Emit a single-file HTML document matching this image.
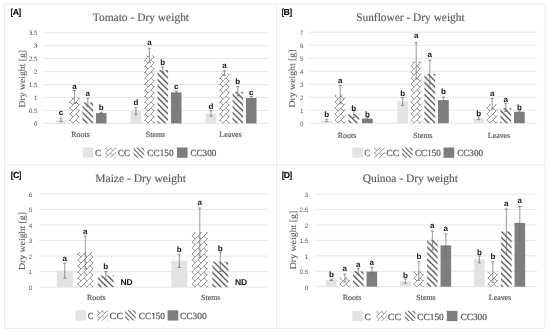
<!DOCTYPE html><html><head><meta charset="utf-8"><title>Dry weight charts</title>
<style>html,body{margin:0;padding:0;background:#fff;}svg{display:block;text-rendering:geometricPrecision;filter:blur(0.35px);}</style></head><body>
<svg width="550" height="333" viewBox="0 0 550 333">
<defs>
<pattern id="pCC" patternUnits="userSpaceOnUse" width="6" height="6"><path d="M-1 7 L7 -1 M-1 1 L1 -1 M5 7 L7 5 M3.0 3.0 L6 6" stroke="#8c8c8c" stroke-width="0.85" fill="none"/></pattern>
<pattern id="pCCL" patternUnits="userSpaceOnUse" width="4.8" height="4.8"><path d="M-1 5.8 L5.8 -1 M-1 1 L1 -1 M3.8 5.8 L5.8 3.8 M2.4 2.4 L4.8 4.8" stroke="#808080" stroke-width="0.7" fill="none"/></pattern>
<pattern id="p150L" patternUnits="userSpaceOnUse" width="4.7" height="4.7"><path d="M-1 -1 L5.7 5.7 M-1 3.7 L1 5.7 M3.7 -1 L5.7 1" stroke="#606060" stroke-width="1.15" fill="none"/></pattern>
<pattern id="p150" patternUnits="userSpaceOnUse" width="6" height="6"><path d="M-1 -1 L7 7 M-1 5 L1 7 M5 -1 L7 1" stroke="#606060" stroke-width="1.4" fill="none"/></pattern>
</defs>
<rect x="0" y="0" width="550" height="333" fill="#fff"/>
<g fill="none" stroke="#ececec" stroke-width="1">
<rect x="4.7" y="4.0" width="540.3" height="324.4"/>
<line x1="276.5" y1="4" x2="276.5" y2="328.4"/>
<line x1="4.5" y1="164.8" x2="545" y2="164.8"/>
</g>
<text x="10.6" y="15" font-family="'Liberation Sans', sans-serif" font-size="8.8" fill="#000" font-weight="bold" stroke="#000" stroke-width="0.1" letter-spacing="-0.35"><tspan font-weight="normal" stroke-width="0.3">[</tspan>A<tspan font-weight="normal" stroke-width="0.3">]</tspan></text>
<text x="140.9" y="21.4" font-family="'Liberation Serif', serif" font-size="11.5" fill="#595959" text-anchor="middle" stroke="#595959" stroke-width="0.14" textLength="96.3" lengthAdjust="spacingAndGlyphs">Tomato - Dry weight</text>
<g stroke="#e6e6e6" stroke-width="1">
<line x1="43" y1="123.4" x2="268" y2="123.4"/>
<line x1="43" y1="110.45" x2="268" y2="110.45"/>
<line x1="43" y1="97.5" x2="268" y2="97.5"/>
<line x1="43" y1="84.55" x2="268" y2="84.55"/>
<line x1="43" y1="71.6" x2="268" y2="71.6"/>
<line x1="43" y1="58.65" x2="268" y2="58.65"/>
<line x1="43" y1="45.7" x2="268" y2="45.7"/>
<line x1="43" y1="32.75" x2="268" y2="32.75"/>
</g>
<text x="37.3" y="125.7" font-family="'Liberation Serif', serif" font-size="6.6" fill="#595959" text-anchor="end" stroke="#595959" stroke-width="0.1">0</text>
<text x="37.3" y="112.75" font-family="'Liberation Serif', serif" font-size="6.6" fill="#595959" text-anchor="end" stroke="#595959" stroke-width="0.1">0.5</text>
<text x="37.3" y="99.8" font-family="'Liberation Serif', serif" font-size="6.6" fill="#595959" text-anchor="end" stroke="#595959" stroke-width="0.1">1</text>
<text x="37.3" y="86.85" font-family="'Liberation Serif', serif" font-size="6.6" fill="#595959" text-anchor="end" stroke="#595959" stroke-width="0.1">1.5</text>
<text x="37.3" y="73.9" font-family="'Liberation Serif', serif" font-size="6.6" fill="#595959" text-anchor="end" stroke="#595959" stroke-width="0.1">2</text>
<text x="37.3" y="60.95" font-family="'Liberation Serif', serif" font-size="6.6" fill="#595959" text-anchor="end" stroke="#595959" stroke-width="0.1">2.5</text>
<text x="37.3" y="48" font-family="'Liberation Serif', serif" font-size="6.6" fill="#595959" text-anchor="end" stroke="#595959" stroke-width="0.1">3</text>
<text x="37.3" y="35.05" font-family="'Liberation Serif', serif" font-size="6.6" fill="#595959" text-anchor="end" stroke="#595959" stroke-width="0.1">3.5</text>
<text transform="translate(25 78.8) rotate(-90)" font-family="'Liberation Serif', serif" font-size="9.1" fill="#595959" text-anchor="middle" stroke="#595959" stroke-width="0.08" textLength="57.6" lengthAdjust="spacingAndGlyphs">Dry weight [g]</text>
<text x="80.5" y="137.3" font-family="'Liberation Serif', serif" font-size="7.9" fill="#595959" text-anchor="middle" stroke="#595959" stroke-width="0.2">Roots</text>
<rect x="55.68" y="120.29" width="10.5" height="3.11" fill="#e3e3e3"/>
<path d="M60.93 118.22V121.59M59.33 118.22H62.53M59.33 121.59H62.53" stroke="#6e6e6e" stroke-width="0.72" fill="none"/>
<text x="60.93" y="115.3" font-family="'Liberation Sans', sans-serif" font-size="8" fill="#111" font-weight="bold" text-anchor="middle">c</text>
<pattern id="pcc40" href="#pCC" patternTransform="translate(67 123)"/>
<rect x="69.12" y="97.5" width="10.5" height="25.9" fill="url(#pcc40)"/>
<path d="M74.38 90.51V103.2M72.78 90.51H75.97M72.78 103.2H75.97" stroke="#6e6e6e" stroke-width="0.72" fill="none"/>
<text x="74.38" y="88.5" font-family="'Liberation Sans', sans-serif" font-size="8" fill="#111" font-weight="bold" text-anchor="middle">a</text>
<rect x="82.58" y="102.42" width="10.5" height="20.98" fill="url(#p150)"/>
<path d="M87.83 98.28V106.31M86.23 98.28H89.42M86.23 106.31H89.42" stroke="#6e6e6e" stroke-width="0.72" fill="none"/>
<text x="87.83" y="96.1" font-family="'Liberation Sans', sans-serif" font-size="8" fill="#111" font-weight="bold" text-anchor="middle">a</text>
<rect x="96.03" y="113.04" width="10.5" height="10.36" fill="#7e7e7e"/>
<path d="M101.28 112.26V113.56M99.68 112.26H102.88M99.68 113.56H102.88" stroke="#6e6e6e" stroke-width="0.72" fill="none"/>
<text x="101.28" y="109.5" font-family="'Liberation Sans', sans-serif" font-size="8" fill="#111" font-weight="bold" text-anchor="middle">b</text>
<text x="155.5" y="137.3" font-family="'Liberation Serif', serif" font-size="7.9" fill="#595959" text-anchor="middle" stroke="#595959" stroke-width="0.2">Stems</text>
<rect x="130.67" y="110.97" width="10.5" height="12.43" fill="#e3e3e3"/>
<path d="M135.92 107.6V114.59M134.32 107.6H137.52M134.32 114.59H137.52" stroke="#6e6e6e" stroke-width="0.72" fill="none"/>
<text x="135.92" y="104.5" font-family="'Liberation Sans', sans-serif" font-size="8" fill="#111" font-weight="bold" text-anchor="middle">d</text>
<pattern id="pcc54" href="#pCC" patternTransform="translate(142 123)"/>
<rect x="144.12" y="55.28" width="10.5" height="68.12" fill="url(#pcc54)"/>
<path d="M149.37 48.29V62.28M147.77 48.29H150.97M147.77 62.28H150.97" stroke="#6e6e6e" stroke-width="0.72" fill="none"/>
<text x="149.37" y="45.1" font-family="'Liberation Sans', sans-serif" font-size="8" fill="#111" font-weight="bold" text-anchor="middle">a</text>
<rect x="157.57" y="70.05" width="10.5" height="53.35" fill="url(#p150)"/>
<path d="M162.82 67.2V72.64M161.22 67.2H164.42M161.22 72.64H164.42" stroke="#6e6e6e" stroke-width="0.72" fill="none"/>
<text x="162.82" y="64.7" font-family="'Liberation Sans', sans-serif" font-size="8" fill="#111" font-weight="bold" text-anchor="middle">b</text>
<rect x="171.02" y="92.32" width="10.5" height="31.08" fill="#7e7e7e"/>
<path d="M176.27 91.03V93.62M174.67 91.03H177.87M174.67 93.62H177.87" stroke="#6e6e6e" stroke-width="0.72" fill="none"/>
<text x="176.27" y="89" font-family="'Liberation Sans', sans-serif" font-size="8" fill="#111" font-weight="bold" text-anchor="middle">c</text>
<text x="230.5" y="137.3" font-family="'Liberation Serif', serif" font-size="7.9" fill="#595959" text-anchor="middle" stroke="#595959" stroke-width="0.2">Leaves</text>
<rect x="205.67" y="113.56" width="10.5" height="9.84" fill="#e3e3e3"/>
<path d="M210.92 110.71V116.15M209.32 110.71H212.52M209.32 116.15H212.52" stroke="#6e6e6e" stroke-width="0.72" fill="none"/>
<text x="210.92" y="108.8" font-family="'Liberation Sans', sans-serif" font-size="8" fill="#111" font-weight="bold" text-anchor="middle">d</text>
<pattern id="pcc68" href="#pCC" patternTransform="translate(217 123)"/>
<rect x="219.12" y="73.41" width="10.5" height="49.99" fill="url(#pcc68)"/>
<path d="M224.37 70.82V75.49M222.77 70.82H225.97M222.77 75.49H225.97" stroke="#6e6e6e" stroke-width="0.72" fill="none"/>
<text x="224.37" y="68.2" font-family="'Liberation Sans', sans-serif" font-size="8" fill="#111" font-weight="bold" text-anchor="middle">a</text>
<rect x="232.57" y="91.8" width="10.5" height="31.6" fill="url(#p150)"/>
<path d="M237.82 86.62V95.95M236.22 86.62H239.42M236.22 95.95H239.42" stroke="#6e6e6e" stroke-width="0.72" fill="none"/>
<text x="237.82" y="84.4" font-family="'Liberation Sans', sans-serif" font-size="8" fill="#111" font-weight="bold" text-anchor="middle">b</text>
<rect x="246.02" y="98.02" width="10.5" height="25.38" fill="#7e7e7e"/>
<path d="M251.27 96.46V99.31M249.67 96.46H252.87M249.67 99.31H252.87" stroke="#6e6e6e" stroke-width="0.72" fill="none"/>
<text x="251.27" y="94.5" font-family="'Liberation Sans', sans-serif" font-size="8" fill="#111" font-weight="bold" text-anchor="middle">c</text>
<rect x="82.7" y="147.5" width="10.7" height="10.3" fill="#e3e3e3"/>
<text x="95" y="156.4" font-family="'Liberation Serif', serif" font-size="9.4" fill="#595959" stroke="#595959" stroke-width="0.22" textLength="6.5" lengthAdjust="spacingAndGlyphs">C</text>
<clipPath id="clpA1"><rect x="105.2" y="147.5" width="10.7" height="10.3"/></clipPath>
<path d="M102.2 137.2L118.9 120.5M102.2 142L118.9 125.3M102.2 146.8L118.9 130.1M102.2 151.6L118.9 134.9M102.2 156.4L118.9 139.7M102.2 161.2L118.9 144.5M102.2 166L118.9 149.3M102.2 170.8L118.9 154.1M102.2 175.6L118.9 158.9M102.2 180.4L118.9 163.7M100.85 143.35L103.25 145.75M100.85 148.15L103.25 150.55M100.85 152.95L103.25 155.35M100.85 157.75L103.25 160.15M105.65 143.35L108.05 145.75M105.65 148.15L108.05 150.55M105.65 152.95L108.05 155.35M105.65 157.75L108.05 160.15M110.45 143.35L112.85 145.75M110.45 148.15L112.85 150.55M110.45 152.95L112.85 155.35M110.45 157.75L112.85 160.15M115.25 143.35L117.65 145.75M115.25 148.15L117.65 150.55M115.25 152.95L117.65 155.35M115.25 157.75L117.65 160.15" stroke="#808080" stroke-width="0.8" fill="none" clip-path="url(#clpA1)"/>
<text x="117.8" y="156.4" font-family="'Liberation Serif', serif" font-size="9.4" fill="#595959" stroke="#595959" stroke-width="0.22" textLength="12.2" lengthAdjust="spacingAndGlyphs">CC</text>
<clipPath id="clpA2"><rect x="133.6" y="147.5" width="10.7" height="10.3"/></clipPath>
<path d="M105.7 144.5L122 160.8M110.4 144.5L126.7 160.8M115.1 144.5L131.4 160.8M119.8 144.5L136.1 160.8M124.5 144.5L140.8 160.8M129.2 144.5L145.5 160.8M133.9 144.5L150.2 160.8M138.6 144.5L154.9 160.8M143.3 144.5L159.6 160.8M148 144.5L164.3 160.8M152.7 144.5L169 160.8" stroke="#606060" stroke-width="1.05" fill="none" clip-path="url(#clpA2)"/>
<text x="147.3" y="156.4" font-family="'Liberation Serif', serif" font-size="9.4" fill="#595959" stroke="#595959" stroke-width="0.22" textLength="26.3" lengthAdjust="spacingAndGlyphs">CC150</text>
<rect x="176.9" y="147.5" width="10.7" height="10.3" fill="#7e7e7e"/>
<text x="190.4" y="156.4" font-family="'Liberation Serif', serif" font-size="9.4" fill="#595959" stroke="#595959" stroke-width="0.22" textLength="26" lengthAdjust="spacingAndGlyphs">CC300</text>
<text x="281.5" y="15" font-family="'Liberation Sans', sans-serif" font-size="8.8" fill="#000" font-weight="bold" stroke="#000" stroke-width="0.1" letter-spacing="-0.35"><tspan font-weight="normal" stroke-width="0.3">[</tspan>B<tspan font-weight="normal" stroke-width="0.3">]</tspan></text>
<text x="410.4" y="20.8" font-family="'Liberation Serif', serif" font-size="11.5" fill="#595959" text-anchor="middle" stroke="#595959" stroke-width="0.14" textLength="108.5" lengthAdjust="spacingAndGlyphs">Sunflower - Dry weight</text>
<g stroke="#e6e6e6" stroke-width="1">
<line x1="309" y1="123.2" x2="537" y2="123.2"/>
<line x1="309" y1="110.2" x2="537" y2="110.2"/>
<line x1="309" y1="97.2" x2="537" y2="97.2"/>
<line x1="309" y1="84.2" x2="537" y2="84.2"/>
<line x1="309" y1="71.2" x2="537" y2="71.2"/>
<line x1="309" y1="58.2" x2="537" y2="58.2"/>
<line x1="309" y1="45.2" x2="537" y2="45.2"/>
<line x1="309" y1="32.2" x2="537" y2="32.2"/>
</g>
<text x="303.4" y="126" font-family="'Liberation Sans', sans-serif" font-size="6.3" fill="#595959" text-anchor="end">0</text>
<text x="303.4" y="113" font-family="'Liberation Sans', sans-serif" font-size="6.3" fill="#595959" text-anchor="end">1</text>
<text x="303.4" y="100" font-family="'Liberation Sans', sans-serif" font-size="6.3" fill="#595959" text-anchor="end">2</text>
<text x="303.4" y="87" font-family="'Liberation Sans', sans-serif" font-size="6.3" fill="#595959" text-anchor="end">3</text>
<text x="303.4" y="74" font-family="'Liberation Sans', sans-serif" font-size="6.3" fill="#595959" text-anchor="end">4</text>
<text x="303.4" y="61" font-family="'Liberation Sans', sans-serif" font-size="6.3" fill="#595959" text-anchor="end">5</text>
<text x="303.4" y="48" font-family="'Liberation Sans', sans-serif" font-size="6.3" fill="#595959" text-anchor="end">6</text>
<text x="303.4" y="35" font-family="'Liberation Sans', sans-serif" font-size="6.3" fill="#595959" text-anchor="end">7</text>
<text transform="translate(295 78.5) rotate(-90)" font-family="'Liberation Serif', serif" font-size="9.1" fill="#595959" text-anchor="middle" stroke="#595959" stroke-width="0.08" textLength="58" lengthAdjust="spacingAndGlyphs">Dry weight [g]</text>
<text x="347" y="137.8" font-family="'Liberation Serif', serif" font-size="7.9" fill="#595959" text-anchor="middle" stroke="#595959" stroke-width="0.2">Roots</text>
<rect x="321.2" y="120.6" width="10.8" height="2.6" fill="#e3e3e3"/>
<path d="M326.6 119.3V121.64M325 119.3H328.2M325 121.64H328.2" stroke="#6e6e6e" stroke-width="0.72" fill="none"/>
<text x="326.6" y="116.6" font-family="'Liberation Sans', sans-serif" font-size="8" fill="#111" font-weight="bold" text-anchor="middle">b</text>
<pattern id="pcc113" href="#pCC" patternTransform="translate(332 123)"/>
<rect x="334.8" y="94.6" width="10.8" height="28.6" fill="url(#pcc113)"/>
<path d="M340.2 85.5V103.7M338.6 85.5H341.8M338.6 103.7H341.8" stroke="#6e6e6e" stroke-width="0.72" fill="none"/>
<text x="340.2" y="83.3" font-family="'Liberation Sans', sans-serif" font-size="8" fill="#111" font-weight="bold" text-anchor="middle">a</text>
<rect x="348.4" y="114.1" width="10.8" height="9.1" fill="url(#p150)"/>
<path d="M353.8 110.2V117.35M352.2 110.2H355.4M352.2 117.35H355.4" stroke="#6e6e6e" stroke-width="0.72" fill="none"/>
<text x="353.8" y="110.9" font-family="'Liberation Sans', sans-serif" font-size="8" fill="#111" font-weight="bold" text-anchor="middle">b</text>
<rect x="362" y="118.65" width="10.8" height="4.55" fill="#7e7e7e"/>
<path d="M367.4 117.35V119.56M365.8 117.35H369M365.8 119.56H369" stroke="#6e6e6e" stroke-width="0.72" fill="none"/>
<text x="367.4" y="116.6" font-family="'Liberation Sans', sans-serif" font-size="8" fill="#111" font-weight="bold" text-anchor="middle">b</text>
<text x="423" y="137.8" font-family="'Liberation Serif', serif" font-size="7.9" fill="#595959" text-anchor="middle" stroke="#595959" stroke-width="0.2">Stems</text>
<rect x="397.2" y="101.36" width="10.8" height="21.84" fill="#e3e3e3"/>
<path d="M402.6 97.59V105.39M401 97.59H404.2M401 105.39H404.2" stroke="#6e6e6e" stroke-width="0.72" fill="none"/>
<text x="402.6" y="95.6" font-family="'Liberation Sans', sans-serif" font-size="8" fill="#111" font-weight="bold" text-anchor="middle">b</text>
<pattern id="pcc127" href="#pCC" patternTransform="translate(408 123)"/>
<rect x="410.8" y="61.32" width="10.8" height="61.88" fill="url(#pcc127)"/>
<path d="M416.2 42.6V79M414.6 42.6H417.8M414.6 79H417.8" stroke="#6e6e6e" stroke-width="0.72" fill="none"/>
<text x="416.2" y="38.4" font-family="'Liberation Sans', sans-serif" font-size="8" fill="#111" font-weight="bold" text-anchor="middle">a</text>
<rect x="424.4" y="73.93" width="10.8" height="49.27" fill="url(#p150)"/>
<path d="M429.8 60.28V88.1M428.2 60.28H431.4M428.2 88.1H431.4" stroke="#6e6e6e" stroke-width="0.72" fill="none"/>
<text x="429.8" y="56.7" font-family="'Liberation Sans', sans-serif" font-size="8" fill="#111" font-weight="bold" text-anchor="middle">a</text>
<rect x="438" y="100.06" width="10.8" height="23.14" fill="#7e7e7e"/>
<path d="M443.4 97.2V103.7M441.8 97.2H445M441.8 103.7H445" stroke="#6e6e6e" stroke-width="0.72" fill="none"/>
<text x="443.4" y="94.4" font-family="'Liberation Sans', sans-serif" font-size="8" fill="#111" font-weight="bold" text-anchor="middle">b</text>
<text x="499" y="137.8" font-family="'Liberation Serif', serif" font-size="7.9" fill="#595959" text-anchor="middle" stroke="#595959" stroke-width="0.2">Leaves</text>
<rect x="473.2" y="118.26" width="10.8" height="4.94" fill="#e3e3e3"/>
<path d="M478.6 116.7V119.56M477 116.7H480.2M477 119.56H480.2" stroke="#6e6e6e" stroke-width="0.72" fill="none"/>
<text x="478.6" y="115.5" font-family="'Liberation Sans', sans-serif" font-size="8" fill="#111" font-weight="bold" text-anchor="middle">b</text>
<pattern id="pcc141" href="#pCC" patternTransform="translate(484 123)"/>
<rect x="486.8" y="104.35" width="10.8" height="18.85" fill="url(#pcc141)"/>
<path d="M492.2 98.5V108.9M490.6 98.5H493.8M490.6 108.9H493.8" stroke="#6e6e6e" stroke-width="0.72" fill="none"/>
<text x="492.2" y="96.1" font-family="'Liberation Sans', sans-serif" font-size="8" fill="#111" font-weight="bold" text-anchor="middle">a</text>
<rect x="500.4" y="108.12" width="10.8" height="15.08" fill="url(#p150)"/>
<path d="M505.8 103.31V111.5M504.2 103.31H507.4M504.2 111.5H507.4" stroke="#6e6e6e" stroke-width="0.72" fill="none"/>
<text x="505.8" y="101.8" font-family="'Liberation Sans', sans-serif" font-size="8" fill="#111" font-weight="bold" text-anchor="middle">a</text>
<rect x="514" y="111.76" width="10.8" height="11.44" fill="#7e7e7e"/>
<path d="M519.4 110.85V112.54M517.8 110.85H521M517.8 112.54H521" stroke="#6e6e6e" stroke-width="0.72" fill="none"/>
<text x="519.4" y="109.8" font-family="'Liberation Sans', sans-serif" font-size="8" fill="#111" font-weight="bold" text-anchor="middle">b</text>
<rect x="352.3" y="147.5" width="10.7" height="10.3" fill="#e3e3e3"/>
<text x="364.5" y="156.4" font-family="'Liberation Serif', serif" font-size="9.4" fill="#595959" stroke="#595959" stroke-width="0.22" textLength="5.6" lengthAdjust="spacingAndGlyphs">C</text>
<clipPath id="clpB1"><rect x="374" y="147.5" width="10.7" height="10.3"/></clipPath>
<path d="M371 137.2L387.7 120.5M371 142L387.7 125.3M371 146.8L387.7 130.1M371 151.6L387.7 134.9M371 156.4L387.7 139.7M371 161.2L387.7 144.5M371 166L387.7 149.3M371 170.8L387.7 154.1M371 175.6L387.7 158.9M371 180.4L387.7 163.7M369.65 143.35L372.05 145.75M369.65 148.15L372.05 150.55M369.65 152.95L372.05 155.35M369.65 157.75L372.05 160.15M374.45 143.35L376.85 145.75M374.45 148.15L376.85 150.55M374.45 152.95L376.85 155.35M374.45 157.75L376.85 160.15M379.25 143.35L381.65 145.75M379.25 148.15L381.65 150.55M379.25 152.95L381.65 155.35M379.25 157.75L381.65 160.15M384.05 143.35L386.45 145.75M384.05 148.15L386.45 150.55M384.05 152.95L386.45 155.35M384.05 157.75L386.45 160.15" stroke="#808080" stroke-width="0.8" fill="none" clip-path="url(#clpB1)"/>
<text x="386.3" y="156.4" font-family="'Liberation Serif', serif" font-size="9.4" fill="#595959" stroke="#595959" stroke-width="0.22" textLength="13" lengthAdjust="spacingAndGlyphs">CC</text>
<clipPath id="clpB2"><rect x="402" y="147.5" width="10.7" height="10.3"/></clipPath>
<path d="M374.1 144.5L390.4 160.8M378.8 144.5L395.1 160.8M383.5 144.5L399.8 160.8M388.2 144.5L404.5 160.8M392.9 144.5L409.2 160.8M397.6 144.5L413.9 160.8M402.3 144.5L418.6 160.8M407 144.5L423.3 160.8M411.7 144.5L428 160.8M416.4 144.5L432.7 160.8M421.1 144.5L437.4 160.8" stroke="#606060" stroke-width="1.05" fill="none" clip-path="url(#clpB2)"/>
<text x="415" y="156.4" font-family="'Liberation Serif', serif" font-size="9.4" fill="#595959" stroke="#595959" stroke-width="0.22" textLength="25.8" lengthAdjust="spacingAndGlyphs">CC150</text>
<rect x="443.5" y="147.5" width="10.7" height="10.3" fill="#7e7e7e"/>
<text x="457.2" y="156.4" font-family="'Liberation Serif', serif" font-size="9.4" fill="#595959" stroke="#595959" stroke-width="0.22" textLength="25.8" lengthAdjust="spacingAndGlyphs">CC300</text>
<text x="10.8" y="178.3" font-family="'Liberation Sans', sans-serif" font-size="8.8" fill="#000" font-weight="bold" stroke="#000" stroke-width="0.1" letter-spacing="-0.35"><tspan font-weight="normal" stroke-width="0.3">[</tspan>C<tspan font-weight="normal" stroke-width="0.3">]</tspan></text>
<text x="140.6" y="181.5" font-family="'Liberation Serif', serif" font-size="11.5" fill="#595959" text-anchor="middle" stroke="#595959" stroke-width="0.14" textLength="90.6" lengthAdjust="spacingAndGlyphs">Maize - Dry weight</text>
<g stroke="#e6e6e6" stroke-width="1">
<line x1="39" y1="287.2" x2="268" y2="287.2"/>
<line x1="39" y1="271.65" x2="268" y2="271.65"/>
<line x1="39" y1="256.1" x2="268" y2="256.1"/>
<line x1="39" y1="240.55" x2="268" y2="240.55"/>
<line x1="39" y1="225" x2="268" y2="225"/>
<line x1="39" y1="209.45" x2="268" y2="209.45"/>
<line x1="39" y1="193.9" x2="268" y2="193.9"/>
</g>
<text x="32.3" y="290" font-family="'Liberation Sans', sans-serif" font-size="6.3" fill="#595959" text-anchor="end">0</text>
<text x="32.3" y="274.45" font-family="'Liberation Sans', sans-serif" font-size="6.3" fill="#595959" text-anchor="end">1</text>
<text x="32.3" y="258.9" font-family="'Liberation Sans', sans-serif" font-size="6.3" fill="#595959" text-anchor="end">2</text>
<text x="32.3" y="243.35" font-family="'Liberation Sans', sans-serif" font-size="6.3" fill="#595959" text-anchor="end">3</text>
<text x="32.3" y="227.8" font-family="'Liberation Sans', sans-serif" font-size="6.3" fill="#595959" text-anchor="end">4</text>
<text x="32.3" y="212.25" font-family="'Liberation Sans', sans-serif" font-size="6.3" fill="#595959" text-anchor="end">5</text>
<text x="32.3" y="196.7" font-family="'Liberation Sans', sans-serif" font-size="6.3" fill="#595959" text-anchor="end">6</text>
<text transform="translate(25 241) rotate(-90)" font-family="'Liberation Serif', serif" font-size="9.1" fill="#595959" text-anchor="middle" stroke="#595959" stroke-width="0.08" textLength="58" lengthAdjust="spacingAndGlyphs">Dry weight [g]</text>
<text x="96.25" y="300.2" font-family="'Liberation Serif', serif" font-size="7.9" fill="#595959" text-anchor="middle" stroke="#595959" stroke-width="0.2">Roots</text>
<rect x="56.8" y="270.72" width="16" height="16.48" fill="#e3e3e3"/>
<path d="M64.8 263.41V278.18M63.2 263.41H66.4M63.2 278.18H66.4" stroke="#6e6e6e" stroke-width="0.72" fill="none"/>
<text x="64.8" y="260.8" font-family="'Liberation Sans', sans-serif" font-size="8" fill="#111" font-weight="bold" text-anchor="middle">a</text>
<pattern id="pcc184" href="#pCC" patternTransform="translate(75 287)"/>
<rect x="77.3" y="251.9" width="16" height="35.3" fill="url(#pcc184)"/>
<path d="M85.3 235.88V269.01M83.7 235.88H86.9M83.7 269.01H86.9" stroke="#6e6e6e" stroke-width="0.72" fill="none"/>
<text x="85.3" y="233.6" font-family="'Liberation Sans', sans-serif" font-size="8" fill="#111" font-weight="bold" text-anchor="middle">a</text>
<rect x="97.8" y="275.54" width="16" height="11.66" fill="url(#p150)"/>
<path d="M105.8 271.65V279.43M104.2 271.65H107.4M104.2 279.43H107.4" stroke="#6e6e6e" stroke-width="0.72" fill="none"/>
<text x="105.8" y="268.7" font-family="'Liberation Sans', sans-serif" font-size="8" fill="#111" font-weight="bold" text-anchor="middle">b</text>
<text x="126.6" y="285.2" font-family="'Liberation Sans', sans-serif" font-size="8.5" fill="#111" font-weight="bold" text-anchor="middle">ND</text>
<text x="210.75" y="300.2" font-family="'Liberation Serif', serif" font-size="7.9" fill="#595959" text-anchor="middle" stroke="#595959" stroke-width="0.2">Stems</text>
<rect x="171.3" y="260.76" width="16" height="26.44" fill="#e3e3e3"/>
<path d="M179.3 254.23V267.45M177.7 254.23H180.9M177.7 267.45H180.9" stroke="#6e6e6e" stroke-width="0.72" fill="none"/>
<text x="179.3" y="252.1" font-family="'Liberation Sans', sans-serif" font-size="8" fill="#111" font-weight="bold" text-anchor="middle">b</text>
<pattern id="pcc196" href="#pCC" patternTransform="translate(189 287)"/>
<rect x="191.8" y="232.15" width="16" height="55.05" fill="url(#pcc196)"/>
<path d="M199.8 208.05V257.65M198.2 208.05H201.4M198.2 257.65H201.4" stroke="#6e6e6e" stroke-width="0.72" fill="none"/>
<text x="199.8" y="205.2" font-family="'Liberation Sans', sans-serif" font-size="8" fill="#111" font-weight="bold" text-anchor="middle">a</text>
<rect x="212.3" y="261.7" width="16" height="25.5" fill="url(#p150)"/>
<path d="M220.3 251.9V271.65M218.7 251.9H221.9M218.7 271.65H221.9" stroke="#6e6e6e" stroke-width="0.72" fill="none"/>
<text x="220.3" y="250.8" font-family="'Liberation Sans', sans-serif" font-size="8" fill="#111" font-weight="bold" text-anchor="middle">b</text>
<text x="241.1" y="285.2" font-family="'Liberation Sans', sans-serif" font-size="8.5" fill="#111" font-weight="bold" text-anchor="middle">ND</text>
<rect x="75.5" y="310.3" width="10.7" height="10.3" fill="#e3e3e3"/>
<text x="87.8" y="319.2" font-family="'Liberation Serif', serif" font-size="9.4" fill="#595959" stroke="#595959" stroke-width="0.22" textLength="5.6" lengthAdjust="spacingAndGlyphs">C</text>
<clipPath id="clpC1"><rect x="97" y="310.3" width="10.7" height="10.3"/></clipPath>
<path d="M94 300L110.7 283.3M94 304.8L110.7 288.1M94 309.6L110.7 292.9M94 314.4L110.7 297.7M94 319.2L110.7 302.5M94 324L110.7 307.3M94 328.8L110.7 312.1M94 333.6L110.7 316.9M94 338.4L110.7 321.7M94 343.2L110.7 326.5M92.65 306.15L95.05 308.55M92.65 310.95L95.05 313.35M92.65 315.75L95.05 318.15M92.65 320.55L95.05 322.95M97.45 306.15L99.85 308.55M97.45 310.95L99.85 313.35M97.45 315.75L99.85 318.15M97.45 320.55L99.85 322.95M102.25 306.15L104.65 308.55M102.25 310.95L104.65 313.35M102.25 315.75L104.65 318.15M102.25 320.55L104.65 322.95M107.05 306.15L109.45 308.55M107.05 310.95L109.45 313.35M107.05 315.75L109.45 318.15M107.05 320.55L109.45 322.95" stroke="#808080" stroke-width="0.8" fill="none" clip-path="url(#clpC1)"/>
<text x="109.5" y="319.2" font-family="'Liberation Serif', serif" font-size="9.4" fill="#595959" stroke="#595959" stroke-width="0.22" textLength="13.9" lengthAdjust="spacingAndGlyphs">CC</text>
<clipPath id="clpC2"><rect x="125" y="310.3" width="10.7" height="10.3"/></clipPath>
<path d="M97.1 307.3L113.4 323.6M101.8 307.3L118.1 323.6M106.5 307.3L122.8 323.6M111.2 307.3L127.5 323.6M115.9 307.3L132.2 323.6M120.6 307.3L136.9 323.6M125.3 307.3L141.6 323.6M130 307.3L146.3 323.6M134.7 307.3L151 323.6M139.4 307.3L155.7 323.6M144.1 307.3L160.4 323.6" stroke="#606060" stroke-width="1.05" fill="none" clip-path="url(#clpC2)"/>
<text x="138.8" y="319.2" font-family="'Liberation Serif', serif" font-size="9.4" fill="#595959" stroke="#595959" stroke-width="0.22" textLength="26.2" lengthAdjust="spacingAndGlyphs">CC150</text>
<rect x="167.6" y="310.3" width="10.7" height="10.3" fill="#7e7e7e"/>
<text x="180" y="319.2" font-family="'Liberation Serif', serif" font-size="9.4" fill="#595959" stroke="#595959" stroke-width="0.22" textLength="26.8" lengthAdjust="spacingAndGlyphs">CC300</text>
<text x="281.7" y="178.3" font-family="'Liberation Sans', sans-serif" font-size="8.8" fill="#000" font-weight="bold" stroke="#000" stroke-width="0.1" letter-spacing="-0.35"><tspan font-weight="normal" stroke-width="0.3">[</tspan>D<tspan font-weight="normal" stroke-width="0.3">]</tspan></text>
<text x="410.3" y="182.2" font-family="'Liberation Serif', serif" font-size="11.5" fill="#595959" text-anchor="middle" stroke="#595959" stroke-width="0.14" textLength="95.3" lengthAdjust="spacingAndGlyphs">Quinoa - Dry weight</text>
<g stroke="#e6e6e6" stroke-width="1">
<line x1="315" y1="286.7" x2="537" y2="286.7"/>
<line x1="315" y1="271.27" x2="537" y2="271.27"/>
<line x1="315" y1="255.85" x2="537" y2="255.85"/>
<line x1="315" y1="240.42" x2="537" y2="240.42"/>
<line x1="315" y1="225" x2="537" y2="225"/>
<line x1="315" y1="209.57" x2="537" y2="209.57"/>
<line x1="315" y1="194.15" x2="537" y2="194.15"/>
</g>
<text x="308.3" y="289.5" font-family="'Liberation Sans', sans-serif" font-size="6.3" fill="#595959" text-anchor="end">0</text>
<text x="308.3" y="274.07" font-family="'Liberation Sans', sans-serif" font-size="6.3" fill="#595959" text-anchor="end">0.5</text>
<text x="308.3" y="258.65" font-family="'Liberation Sans', sans-serif" font-size="6.3" fill="#595959" text-anchor="end">1</text>
<text x="308.3" y="243.22" font-family="'Liberation Sans', sans-serif" font-size="6.3" fill="#595959" text-anchor="end">1.5</text>
<text x="308.3" y="227.8" font-family="'Liberation Sans', sans-serif" font-size="6.3" fill="#595959" text-anchor="end">2</text>
<text x="308.3" y="212.38" font-family="'Liberation Sans', sans-serif" font-size="6.3" fill="#595959" text-anchor="end">2.5</text>
<text x="308.3" y="196.95" font-family="'Liberation Sans', sans-serif" font-size="6.3" fill="#595959" text-anchor="end">3</text>
<text transform="translate(296 240) rotate(-90)" font-family="'Liberation Serif', serif" font-size="9.1" fill="#595959" text-anchor="middle" stroke="#595959" stroke-width="0.08" textLength="58.6" lengthAdjust="spacingAndGlyphs">Dry weight [g]</text>
<text x="352" y="300.2" font-family="'Liberation Serif', serif" font-size="7.9" fill="#595959" text-anchor="middle" stroke="#595959" stroke-width="0.2">Roots</text>
<rect x="326.05" y="279.91" width="10.6" height="6.79" fill="#e3e3e3"/>
<path d="M331.35 278.99V280.53M329.75 278.99H332.95M329.75 280.53H332.95" stroke="#6e6e6e" stroke-width="0.72" fill="none"/>
<text x="331.35" y="276.8" font-family="'Liberation Sans', sans-serif" font-size="8" fill="#111" font-weight="bold" text-anchor="middle">b</text>
<pattern id="pcc237" href="#pCC" patternTransform="translate(337 287)"/>
<rect x="339.55" y="277.44" width="10.6" height="9.25" fill="url(#pcc237)"/>
<path d="M344.85 274.05V282.07M343.25 274.05H346.45M343.25 282.07H346.45" stroke="#6e6e6e" stroke-width="0.72" fill="none"/>
<text x="344.85" y="271.1" font-family="'Liberation Sans', sans-serif" font-size="8" fill="#111" font-weight="bold" text-anchor="middle">a</text>
<rect x="353.05" y="271.27" width="10.6" height="15.43" fill="url(#p150)"/>
<path d="M358.35 268.19V274.36M356.75 268.19H359.95M356.75 274.36H359.95" stroke="#6e6e6e" stroke-width="0.72" fill="none"/>
<text x="358.35" y="266.7" font-family="'Liberation Sans', sans-serif" font-size="8" fill="#111" font-weight="bold" text-anchor="middle">a</text>
<rect x="366.55" y="271.58" width="10.6" height="15.12" fill="#7e7e7e"/>
<path d="M371.85 267.26V275.9M370.25 267.26H373.45M370.25 275.9H373.45" stroke="#6e6e6e" stroke-width="0.72" fill="none"/>
<text x="371.85" y="264.8" font-family="'Liberation Sans', sans-serif" font-size="8" fill="#111" font-weight="bold" text-anchor="middle">a</text>
<text x="426" y="300.2" font-family="'Liberation Serif', serif" font-size="7.9" fill="#595959" text-anchor="middle" stroke="#595959" stroke-width="0.2">Stems</text>
<rect x="400.05" y="281.15" width="10.6" height="5.55" fill="#e3e3e3"/>
<path d="M405.35 278.99V283.31M403.75 278.99H406.95M403.75 283.31H406.95" stroke="#6e6e6e" stroke-width="0.72" fill="none"/>
<text x="405.35" y="277.7" font-family="'Liberation Sans', sans-serif" font-size="8" fill="#111" font-weight="bold" text-anchor="middle">b</text>
<pattern id="pcc251" href="#pCC" patternTransform="translate(411 287)"/>
<rect x="413.55" y="271.27" width="10.6" height="15.43" fill="url(#pcc251)"/>
<path d="M418.85 261.71V280.53M417.25 261.71H420.45M417.25 280.53H420.45" stroke="#6e6e6e" stroke-width="0.72" fill="none"/>
<text x="418.85" y="259.3" font-family="'Liberation Sans', sans-serif" font-size="8" fill="#111" font-weight="bold" text-anchor="middle">b</text>
<rect x="427.05" y="239.81" width="10.6" height="46.89" fill="url(#p150)"/>
<path d="M432.35 231.17V250.3M430.75 231.17H433.95M430.75 250.3H433.95" stroke="#6e6e6e" stroke-width="0.72" fill="none"/>
<text x="432.35" y="227.5" font-family="'Liberation Sans', sans-serif" font-size="8" fill="#111" font-weight="bold" text-anchor="middle">a</text>
<rect x="440.55" y="245.36" width="10.6" height="41.34" fill="#7e7e7e"/>
<path d="M445.85 233.95V256.78M444.25 233.95H447.45M444.25 256.78H447.45" stroke="#6e6e6e" stroke-width="0.72" fill="none"/>
<text x="445.85" y="231.3" font-family="'Liberation Sans', sans-serif" font-size="8" fill="#111" font-weight="bold" text-anchor="middle">a</text>
<text x="500" y="300.2" font-family="'Liberation Serif', serif" font-size="7.9" fill="#595959" text-anchor="middle" stroke="#595959" stroke-width="0.2">Leaves</text>
<rect x="474.05" y="259.24" width="10.6" height="27.46" fill="#e3e3e3"/>
<path d="M479.35 255.85V262.95M477.75 255.85H480.95M477.75 262.95H480.95" stroke="#6e6e6e" stroke-width="0.72" fill="none"/>
<text x="479.35" y="254.5" font-family="'Liberation Sans', sans-serif" font-size="8" fill="#111" font-weight="bold" text-anchor="middle">b</text>
<pattern id="pcc265" href="#pCC" patternTransform="translate(485 287)"/>
<rect x="487.55" y="272.2" width="10.6" height="14.5" fill="url(#pcc265)"/>
<path d="M492.85 261.71V282.69M491.25 261.71H494.45M491.25 282.69H494.45" stroke="#6e6e6e" stroke-width="0.72" fill="none"/>
<text x="492.85" y="259.3" font-family="'Liberation Sans', sans-serif" font-size="8" fill="#111" font-weight="bold" text-anchor="middle">b</text>
<rect x="501.05" y="231.48" width="10.6" height="55.22" fill="url(#p150)"/>
<path d="M506.35 208.96V254M504.75 208.96H507.95M504.75 254H507.95" stroke="#6e6e6e" stroke-width="0.72" fill="none"/>
<text x="506.35" y="205.5" font-family="'Liberation Sans', sans-serif" font-size="8" fill="#111" font-weight="bold" text-anchor="middle">a</text>
<rect x="514.55" y="222.84" width="10.6" height="63.86" fill="#7e7e7e"/>
<path d="M519.85 206.49V241.04M518.25 206.49H521.45M518.25 241.04H521.45" stroke="#6e6e6e" stroke-width="0.72" fill="none"/>
<text x="519.85" y="203.3" font-family="'Liberation Sans', sans-serif" font-size="8" fill="#111" font-weight="bold" text-anchor="middle">a</text>
<rect x="352.3" y="310.8" width="10.7" height="10.3" fill="#e3e3e3"/>
<text x="364.6" y="319.7" font-family="'Liberation Serif', serif" font-size="9.4" fill="#595959" stroke="#595959" stroke-width="0.22" textLength="6.2" lengthAdjust="spacingAndGlyphs">C</text>
<clipPath id="clpD1"><rect x="376.4" y="310.8" width="10.7" height="10.3"/></clipPath>
<path d="M373.4 300.5L390.1 283.8M373.4 305.3L390.1 288.6M373.4 310.1L390.1 293.4M373.4 314.9L390.1 298.2M373.4 319.7L390.1 303M373.4 324.5L390.1 307.8M373.4 329.3L390.1 312.6M373.4 334.1L390.1 317.4M373.4 338.9L390.1 322.2M373.4 343.7L390.1 327M372.05 306.65L374.45 309.05M372.05 311.45L374.45 313.85M372.05 316.25L374.45 318.65M372.05 321.05L374.45 323.45M376.85 306.65L379.25 309.05M376.85 311.45L379.25 313.85M376.85 316.25L379.25 318.65M376.85 321.05L379.25 323.45M381.65 306.65L384.05 309.05M381.65 311.45L384.05 313.85M381.65 316.25L384.05 318.65M381.65 321.05L384.05 323.45M386.45 306.65L388.85 309.05M386.45 311.45L388.85 313.85M386.45 316.25L388.85 318.65M386.45 321.05L388.85 323.45" stroke="#808080" stroke-width="0.8" fill="none" clip-path="url(#clpD1)"/>
<text x="387.8" y="319.7" font-family="'Liberation Serif', serif" font-size="9.4" fill="#595959" stroke="#595959" stroke-width="0.22" textLength="13.2" lengthAdjust="spacingAndGlyphs">CC</text>
<clipPath id="clpD2"><rect x="404.8" y="310.8" width="10.7" height="10.3"/></clipPath>
<path d="M376.9 307.8L393.2 324.1M381.6 307.8L397.9 324.1M386.3 307.8L402.6 324.1M391 307.8L407.3 324.1M395.7 307.8L412 324.1M400.4 307.8L416.7 324.1M405.1 307.8L421.4 324.1M409.8 307.8L426.1 324.1M414.5 307.8L430.8 324.1M419.2 307.8L435.5 324.1M423.9 307.8L440.2 324.1" stroke="#606060" stroke-width="1.05" fill="none" clip-path="url(#clpD2)"/>
<text x="417.2" y="319.7" font-family="'Liberation Serif', serif" font-size="9.4" fill="#595959" stroke="#595959" stroke-width="0.22" textLength="26.6" lengthAdjust="spacingAndGlyphs">CC150</text>
<rect x="446.8" y="310.8" width="10.7" height="10.3" fill="#7e7e7e"/>
<text x="460.4" y="319.7" font-family="'Liberation Serif', serif" font-size="9.4" fill="#595959" stroke="#595959" stroke-width="0.22" textLength="26.6" lengthAdjust="spacingAndGlyphs">CC300</text>
</svg></body></html>
